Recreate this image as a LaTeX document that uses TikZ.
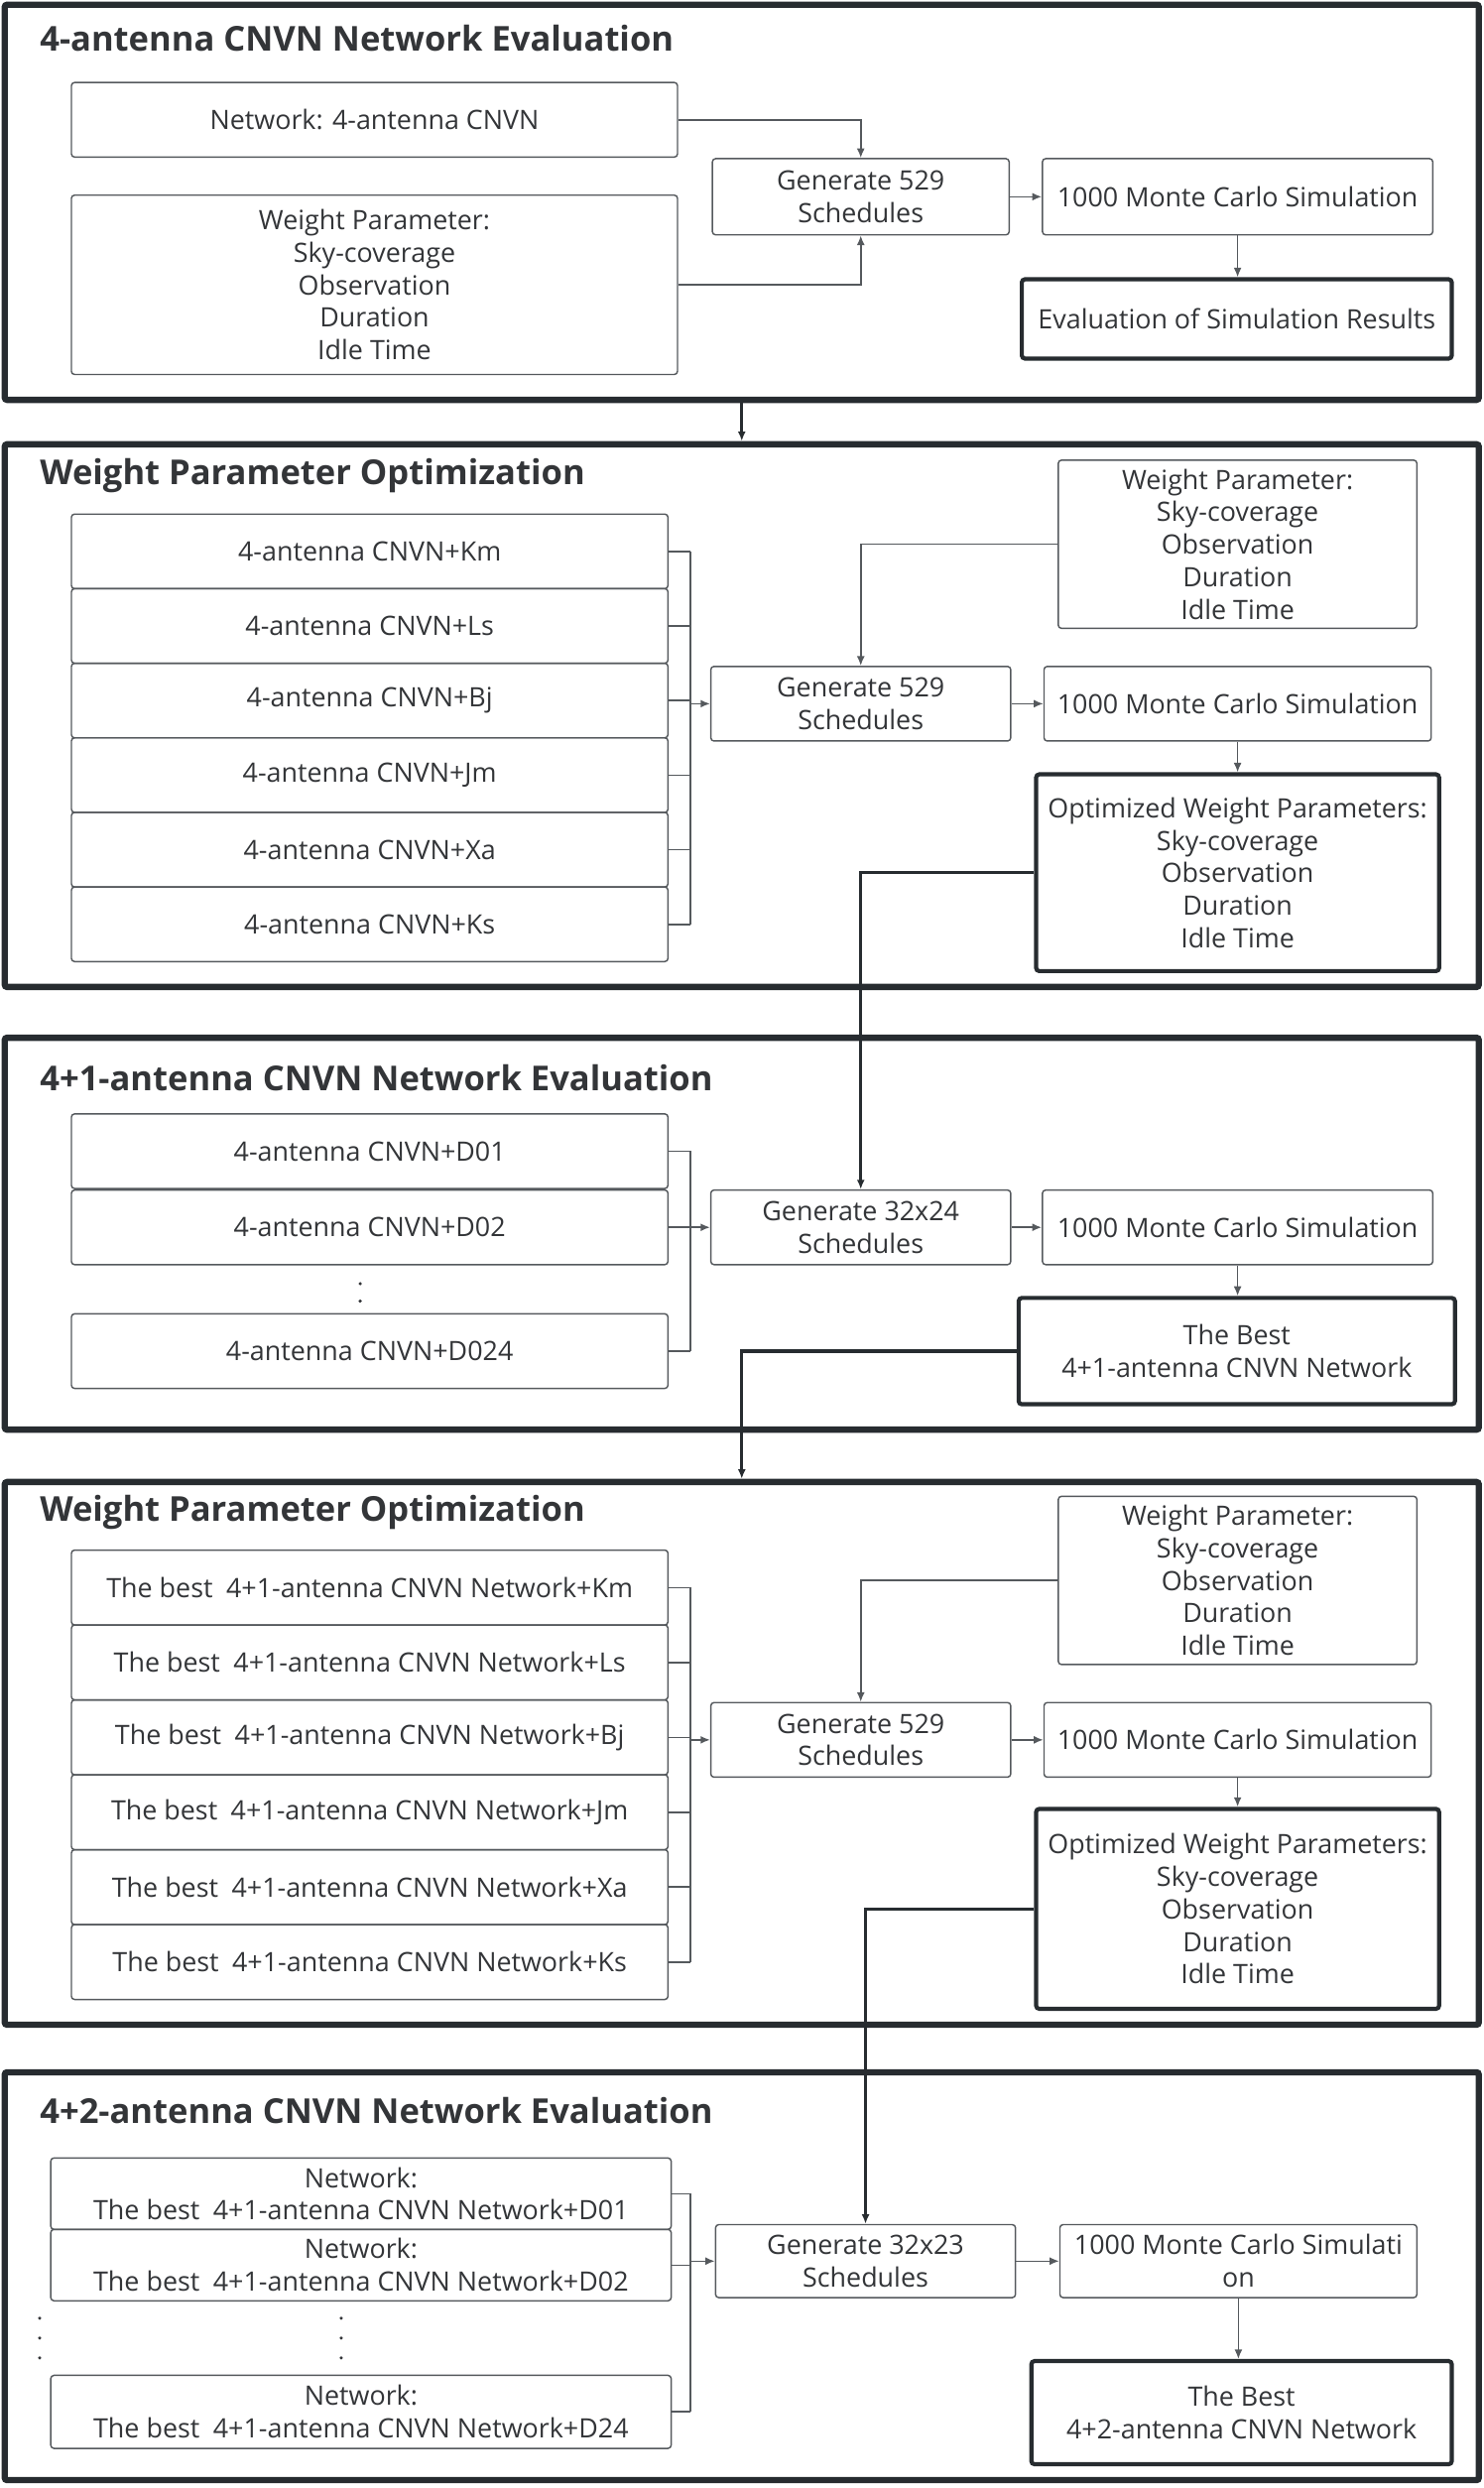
\documentclass[tikz,border=0pt]{standalone}
\usepackage{fontspec}
\usepackage{tikz}
\setmainfont{Open Sans}
\usetikzlibrary{arrows.meta}
\usetikzlibrary{positioning}
\definecolor{framegray}{HTML}{272C30}
\definecolor{boxgray}{HTML}{55595D}
\definecolor{txtgray}{HTML}{333538}
\tikzset{>={Latex[length = 6pt, width = 5pt]}}
\tikzset{panel/.style = {draw = framegray, line width = 4pt, inner sep = 0, rounded corners = 1.5pt}}
\tikzset{blk/.style = {draw = boxgray, line width = 0.9pt, align = center, inner sep = 1pt, rounded corners = 2pt,
    text = txtgray, font = \fontsize{16.8}{20.5}\selectfont}}
\tikzset{res/.style = {blk, draw = framegray, line width = 2.6pt}}
\tikzset{ttl/.style = {anchor = west, inner sep = 0, text = txtgray,
    font = \fontsize{21.6}{24}\selectfont\bfseries}}
\tikzset{conn/.style = {draw = boxgray, line width = 1pt}}
\tikzset{mainconn/.style = {draw = framegray, line width = 2pt, ->}}
\tikzset{circ/.style = {fill = txtgray, circle, inner sep = 0, minimum size = 2.2pt}}

\begin{document}
\begin{tikzpicture}[x = 1pt, y = -1pt]
      \useasboundingbox (0, 0) rectangle (935, 1568);

      % 4-antenna evaluation
      \node [panel, minimum width = 929pt, minimum height = 249pt] (f1) at (467.5, 127.5) {};
      \node [ttl] (t1) at (25, 24) {4-antenna CNVN Network Evaluation};
      \node [blk, minimum width = 382pt, minimum height = 47pt] (net1) at (236, 75.5) {Network: 4-antenna CNVN};
      \node [blk, minimum width = 382pt, minimum height = 113pt] (wp1) at (236, 179.5)
        {Weight Parameter:\\Sky-coverage\\Observation\\Duration\\Idle Time};
      \node [blk, minimum width = 187pt, minimum height = 48pt] (gen1) at (542.5, 124) {Generate 529\\Schedules};
      \node [blk, minimum width = 246pt, minimum height = 48pt] (mc1) at (780, 124) {1000 Monte Carlo Simulation};
      \node [res, minimum width = 271pt, minimum height = 50pt] (ev1) at (779.5, 201) {Evaluation of Simulation Results};
      \draw [conn, ->] (net1.east) -| (gen1.north);
      \draw [conn, ->] (wp1.east) -| (gen1.south);
      \draw [conn, ->] (gen1.east) -- (mc1.west);
      \draw [conn, ->] (mc1.south) -- (mc1.south |- ev1.north);

      % weight parameter optimization
      \node [panel, minimum width = 929pt, minimum height = 342pt] (f2) at (467.5, 451) {};
      \draw [mainconn] (f1.south) -- (f2.north);
      \node [ttl] (t2) at (25, 300) {Weight Parameter Optimization};
      \coordinate (b2) at (435, 443.5);
      \foreach \site [count = \i] in {Km, Ls, Bj, Jm, Xa, Ks} {
        \node [blk, minimum width = 376pt, minimum height = 47pt] (k\i) at (233, 300.5 + 47 * \i) {4-antenna CNVN+\site};
        \draw [conn] (k\i.east) -- (k\i.east -| b2);
      }
      \draw [conn] (k1.east -| b2) -- (k6.east -| b2);
      \node [blk, minimum width = 226pt, minimum height = 106pt] (wp2) at (780, 343)
        {Weight Parameter:\\Sky-coverage\\Observation\\Duration\\Idle Time};
      \node [blk, minimum width = 189pt, minimum height = 47pt] (gen2) at (542.5, 443.5) {Generate 529\\Schedules};
      \node [blk, minimum width = 244pt, minimum height = 47pt] (mc2) at (780, 443.5) {1000 Monte Carlo Simulation};
      \node [res, minimum width = 254pt, minimum height = 124pt] (opt2) at (780, 550)
        {Optimized Weight Parameters:\\Sky-coverage\\Observation\\Duration\\Idle Time};
      \draw [conn, ->] (b2) -- (gen2.west);
      \draw [conn, ->] (wp2.west) -| (gen2.north);
      \draw [conn, ->] (gen2.east) -- (mc2.west);
      \draw [conn, ->] (mc2.south) -- (opt2.north);

      % 4+1-antenna evaluation
      \node [panel, minimum width = 929pt, minimum height = 247pt] (f3) at (467.5, 777.5) {};
      \node [ttl] (t3) at (25, 679) {4+1-antenna CNVN Network Evaluation};
      \coordinate (b3) at (435, 773.5);
      \node [blk, minimum width = 376pt, minimum height = 47pt] (d1) at (233, 725.5) {4-antenna CNVN+D01};
      \node [blk, minimum width = 376pt, minimum height = 47pt] (d2) at (233, 773.5) {4-antenna CNVN+D02};
      \node [blk, minimum width = 376pt, minimum height = 47pt] (d24) at (233, 851.5) {4-antenna CNVN+D024};
      \node [circ] (p31) at (227, 809) {};
      \node [circ] (p32) at (227, 820) {};
      \foreach \d in {d1, d2, d24} {
        \draw [conn] (\d.east) -- (\d.east -| b3);
      }
      \draw [conn] (d1.east -| b3) -- (d24.east -| b3);
      \node [blk, minimum width = 189pt, minimum height = 47pt] (gen3) at (542.5, 773.5) {Generate 32x24\\Schedules};
      \node [blk, minimum width = 246pt, minimum height = 47pt] (mc3) at (780, 773.5) {1000 Monte Carlo Simulation};
      \node [res, minimum width = 275pt, minimum height = 67pt] (best3) at (779.5, 851.5)
        {The Best\\4+1-antenna CNVN Network};
      \draw [mainconn] (opt2.west) -| (gen3.north);
      \draw [conn, ->] (b3) -- (gen3.west);
      \draw [conn, ->] (gen3.east) -- (mc3.west);
      \draw [conn, ->] (mc3.south) -- (mc3.south |- best3.north);

      % weight parameter optimization, 4+1
      \node [panel, minimum width = 929pt, minimum height = 342pt] (f4) at (467.5, 1105) {};
      \draw [mainconn] (best3.west) -| (f4.north);
      \node [ttl] (t4) at (25, 953) {Weight Parameter Optimization};
      \coordinate (b4) at (435, 1096.5);
      \foreach \site [count = \i] in {Km, Ls, Bj, Jm, Xa, Ks} {
        \node [blk, minimum width = 376pt, minimum height = 47.2pt] (m\i) at (233, 953.3 + 47.2 * \i)
          {The best\enspace 4+1-antenna CNVN Network+\site};
        \draw [conn] (m\i.east) -- (m\i.east -| b4);
      }
      \draw [conn] (m1.east -| b4) -- (m6.east -| b4);
      \node [blk, minimum width = 226pt, minimum height = 106pt] (wp4) at (780, 996)
        {Weight Parameter:\\Sky-coverage\\Observation\\Duration\\Idle Time};
      \node [blk, minimum width = 189pt, minimum height = 47pt] (gen4) at (542.5, 1096.5) {Generate 529\\Schedules};
      \node [blk, minimum width = 244pt, minimum height = 47pt] (mc4) at (780, 1096.5) {1000 Monte Carlo Simulation};
      \node [res, minimum width = 254pt, minimum height = 126pt] (opt4) at (780, 1203)
        {Optimized Weight Parameters:\\Sky-coverage\\Observation\\Duration\\Idle Time};
      \draw [conn, ->] (b4) -- (gen4.west);
      \draw [conn, ->] (wp4.west) -| (gen4.north);
      \draw [conn, ->] (gen4.east) -- (mc4.west);
      \draw [conn, ->] (mc4.south) -- (opt4.north);

      % 4+2-antenna evaluation
      \node [panel, minimum width = 929pt, minimum height = 257pt] (f5) at (467.5, 1434.5) {};
      \node [ttl] (t5) at (25, 1330) {4+2-antenna CNVN Network Evaluation};
      \coordinate (b5) at (435, 1425);
      \node [blk, minimum width = 391pt, minimum height = 45pt] (n1) at (227.5, 1382.5)
        {Network:\\The best\enspace 4+1-antenna CNVN Network+D01};
      \node [blk, minimum width = 391pt, minimum height = 45pt] (n2) at (227.5, 1427.5)
        {Network:\\The best\enspace 4+1-antenna CNVN Network+D02};
      \node [blk, minimum width = 391pt, minimum height = 46pt] (n24) at (227.5, 1520)
        {Network:\\The best\enspace 4+1-antenna CNVN Network+D24};
      \foreach \y [count = \i] in {1461, 1473.5, 1486} {
        \node [circ] (pl\i) at (25, \y) {};
        \node [circ] (pr\i) at (215, \y) {};
      }
      \foreach \n in {n1, n2, n24} {
        \draw [conn] (\n.east) -- (\n.east -| b5);
      }
      \draw [conn] (n1.east -| b5) -- (n24.east -| b5);
      \node [blk, minimum width = 189pt, minimum height = 46pt] (gen5) at (545.5, 1425) {Generate 32x23\\Schedules};
      \node [blk, minimum width = 225pt, minimum height = 46pt] (mc5) at (780.5, 1425) {1000 Monte Carlo Simulati\\on};
      \node [res, minimum width = 265pt, minimum height = 65pt] (best5) at (782.5, 1520.5)
        {The Best\\4+2-antenna CNVN Network};
      \draw [mainconn] (opt4.west) -| (gen5.north);
      \draw [conn, ->] (b5) -- (gen5.west);
      \draw [conn, ->] (gen5.east) -- (mc5.west);
      \draw [conn, ->] (mc5.south) -- (mc5.south |- best5.north);
    \end{tikzpicture}
\end{document}
